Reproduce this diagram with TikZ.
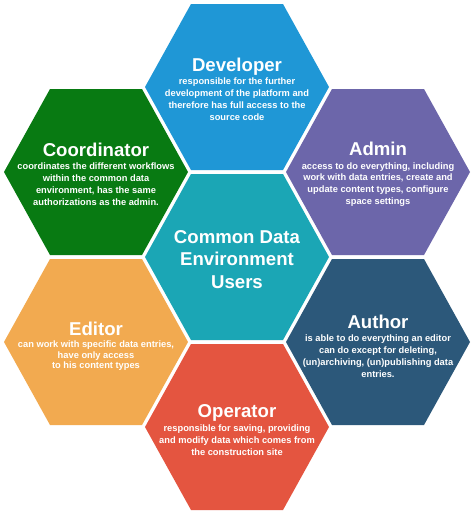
\documentclass[tikz,border=0pt]{standalone}
\usepackage{fontspec}
\setmainfont{Liberation Sans}

\definecolor{devblue}{RGB}{31,151,214}
\definecolor{coordgreen}{RGB}{8,122,18}
\definecolor{adminpurple}{RGB}{108,102,170}
\definecolor{cdeteal}{RGB}{27,166,181}
\definecolor{editororange}{RGB}{242,170,80}
\definecolor{authorblue}{RGB}{44,88,122}
\definecolor{operatorred}{RGB}{228,85,64}

\tikzset{
  roletext/.style={align=center, text=white, inner sep=0pt,
    font=\bfseries\fontsize{9.3}{11.7}\selectfont},
  cdetext/.style={align=center, text=white, inner sep=0pt,
    font=\bfseries\fontsize{18.6}{22.5}\selectfont}
}
% one hexagon, flat top, centred at (#1,#2)
\newcommand{\hexfill}[3]{\fill[#3, shift={(#1,#2)}] (-92,0) -- (-46,-83) -- (46,-83) -- (92,0) -- (46,83) -- (-46,83) -- cycle;}
\newcommand{\roletitle}[1]{{\fontsize{18.6}{20}\selectfont #1}\\[2pt]}

\begin{document}
\begin{tikzpicture}[x=1pt,y=-1pt]
\fill [white] (0,0) rectangle (474,514);
\useasboundingbox (0,0) rectangle (474,514);

\hexfill{237}{87}{devblue}
\hexfill{96}{172}{coordgreen}
\hexfill{378}{172}{adminpurple}
\hexfill{237}{257}{cdeteal}
\hexfill{96}{342}{editororange}
\hexfill{378}{342}{authorblue}
\hexfill{237}{427}{operatorred}

\node[cdetext] (cde) at (237,259.5) {Common Data\\ Environment\\ Users};

\node[roletext] (developer) at (237,89) {\roletitle{Developer}
  responsible for the further\\ development of the platform and\\
  therefore has full access to the\\ source code};
\node[roletext] (coordinator) at (96,174) {\roletitle{Coordinator}
  coordinates the different workflows\\ within the common data\\
  environment, has the same\\ authorizations as the admin.};
\node[roletext] (admin) at (378,174) {\roletitle{Admin}
  access to do everything, including\\ work with data entries, create and\\
  update content types, configure\\ space settings};
\node[roletext, font=\bfseries\fontsize{9.3}{10.5}\selectfont] (editor) at (96,346) {\roletitle{Editor}
  can work with specific data entries,\\ have only access\\ to his content types};
\node[roletext] (author) at (378,346) {\roletitle{Author}
  is able to do everything an editor\\ can do except for deleting,\\
  (un)archiving, (un)publishing data\\ entries.};
\node[roletext] (operator) at (237,430) {\roletitle{Operator}
  responsible for saving, providing\\ and modify data which comes from\\
  the construction site};
\end{tikzpicture}
\end{document}
